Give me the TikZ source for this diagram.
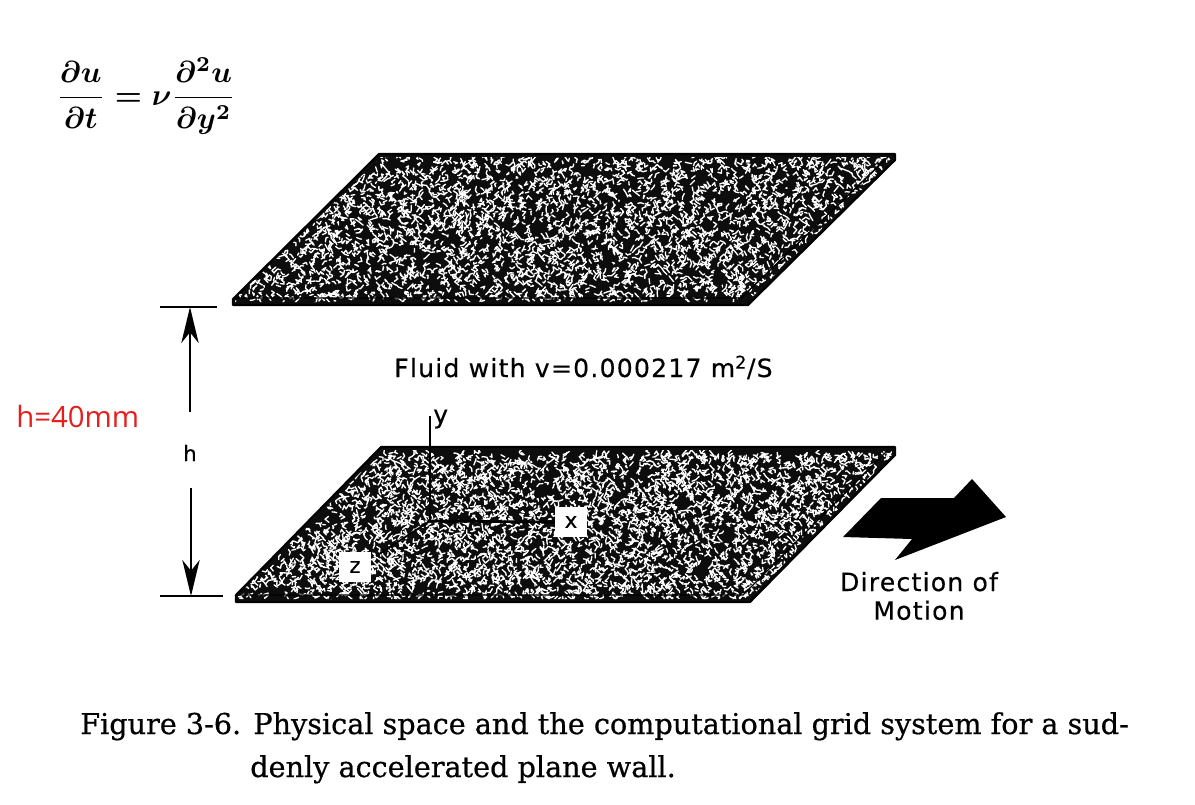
\documentclass[tikz,border=0pt]{standalone}
\usepackage{fontspec}
\usepackage{amsmath}
\setmainfont[FakeBold=0.6]{DejaVu Serif}
\newfontfamily\lblfont[LetterSpace=5,FakeBold=0.35]{DejaVu Sans}
\newfontfamily\redfont{Open Sans}
\usetikzlibrary{arrows.meta}
\tikzset{
  speck/.style={white,line width=1pt,line join=round,line cap=round},
  plate/.style={fill=black!95,draw=black,line width=1.6pt,line join=round},
  edgeline/.style={black,line width=1pt},
  dimline/.style={black,line width=1.3pt},
  ticklinestyle/.style={black,line width=1.2pt},
  axisline/.style={black,line width=2pt},
  lbl/.style={font=\lblfont\fontsize{18.8}{21.5}\selectfont,inner sep=0pt,align=center},
  captext/.style={font=\fontsize{21.5}{24}\selectfont,inner sep=0pt,anchor=base west},
  dimtip/.style={-{Stealth[length=27pt,width=13pt,inset=8pt]}},
  boxlbl/.style={fill=white,font=\lblfont\fontsize{16}{18}\selectfont,inner sep=0pt,minimum width=24pt,minimum height=22pt}
}
\newcommand{\stipple}[4]{%
  \pgfmathsetseed{#3}%
  \foreach \i in {1,...,#4}{%
    \pgfmathsetmacro\uu{rnd}%
    \pgfmathsetmacro\vv{rnd}%
    \pgfmathsetmacro\px{#1+\uu*516+\vv*145}%
    \pgfmathsetmacro\py{#2-\vv*145}%
    \pgfmathsetmacro\ax{4*rand}\pgfmathsetmacro\ay{4*rand}%
    \pgfmathsetmacro\bx{4*rand}\pgfmathsetmacro\by{4*rand}%
    \draw[speck] (\px,\py) -- ++(\ax,\ay) -- ++(\bx,\by);
  }%
}
\begin{document}
\begin{tikzpicture}[x=0.75pt,y=-0.75pt]
\useasboundingbox[fill=white] (0,0) rectangle (1195,804);

% upper plate
\draw[plate] (379,154) -- (895,154) -- (895,160) -- (748,305) -- (233,305) -- (233,299) -- cycle;
\begin{scope}
  \clip (381,157) -- (892,157) -- (892,160) -- (747,302) -- (235,302) -- (235,299) -- cycle;
  \stipple{233}{301}{11}{2900}
\end{scope}
\coordinate (ua) at (235,298);
\coordinate (ub) at (741,298);
\coordinate (uc) at (889,156);
\draw[edgeline] (ua) -- (ub) -- (uc);

% lower plate
\draw[plate] (381,447) -- (895,447) -- (895,455) -- (750,602) -- (236,602) -- (236,595) -- cycle;
\begin{scope}
  \clip (383,450) -- (892,450) -- (892,455) -- (749,599) -- (238,599) -- (238,595) -- cycle;
  \stipple{236}{598}{23}{3500}
\end{scope}
\coordinate (la) at (238,595);
\coordinate (lb) at (743,595);
\coordinate (lc) at (889,449);
\draw[edgeline] (la) -- (lb) -- (lc);

% axes
\coordinate (ytop) at (430,416);
\coordinate (org) at (430,521);
\coordinate (zend) at (376,556);
\node[boxlbl] (xbox) at (571,522) {x};
\node[boxlbl] (zbox) at (355,567) {z};
\draw[axisline] (ytop) -- (org);
\draw[axisline] (org) -- (xbox.west);
\draw[black,line width=1.4pt] (org) -- (zend);
\node[lbl,anchor=west] (ylab) at (433,419) {y};

% dimension h
\node[lbl,font=\lblfont\fontsize{16}{18}\selectfont] (hlab) at (190,453) {h};
\coordinate (t1) at (160,307);
\coordinate (t2) at (217,307);
\coordinate (t3) at (160,596);
\coordinate (t4) at (223,596);
\coordinate (atop) at (190,307);
\coordinate (abot) at (191,596);
\coordinate (amid1) at (190,412);
\coordinate (amid2) at (191,488);
\draw[ticklinestyle] (t1) -- (t2);
\draw[ticklinestyle] (t3) -- (t4);
\draw[dimline,dimtip] (amid1) -- (atop);
\draw[dimline,dimtip] (amid2) -- (abot);
\node[inner sep=0pt,text={rgb,255:red,230;green,30;blue,30},anchor=west,font=\redfont\fontsize{22}{24}\selectfont] (hval) at (16,416) {h=40mm};

% motion arrow
\fill[black,line join=round] (843,537) -- (881,498) -- (954,498) -- (972,479) -- (1006,517) -- (895,560) -- (912,539) -- cycle;
\node[lbl] (dir) at (919,596) {Direction of\\Motion};

% fluid text
\node[lbl,anchor=base west] (fluid) at (394,377) {Fluid with v=0.000217 m\textsuperscript{2}/S};

% equation
\node[inner sep=0pt,scale=2.28] (eqn) at (146,96) {{\boldmath$\displaystyle\frac{\partial u}{\partial t}=\nu\frac{\partial^2 u}{\partial y^2}$}};

% caption
\node[captext] (c1) at (80,734) {Figure 3-6. Physical space and the computational grid system for a sud-};
\node[captext] (c2) at (250,777) {denly accelerated plane wall.};
\end{tikzpicture}
\end{document}
